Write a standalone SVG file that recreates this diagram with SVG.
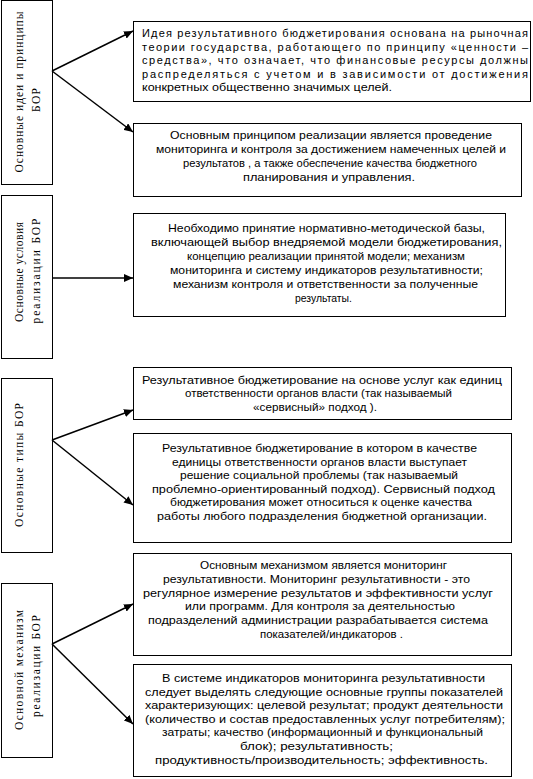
<svg xmlns="http://www.w3.org/2000/svg" width="533" height="779" viewBox="0 0 533 779">
<style>
.box{fill:#fff;stroke:#000;stroke-width:1}
.lt{font-family:"Liberation Serif","Times New Roman",serif;font-size:11.5px;fill:#000;text-anchor:middle}
.rt{font-family:"Liberation Sans",Arial,sans-serif;font-size:11px;fill:#000}
.conn{stroke:#000;stroke-width:1.5;fill:none;marker-end:url(#ah)}
</style>
<defs>
<marker id="ah" markerWidth="10" markerHeight="8" refX="9" refY="4" orient="auto" markerUnits="userSpaceOnUse">
<path d="M0,0 L9,4 L0,8 Z" fill="#000"/>
</marker>
</defs>
<rect width="533" height="779" fill="#fff"/>

<g id="L1">
<rect class="box" x="1.5" y="0.5" width="51" height="184"/>
<text class="lt" transform="translate(23,92) rotate(-90)" textLength="161" lengthAdjust="spacing">Основные идеи и принципы</text>
<text class="lt" transform="translate(40,100) rotate(-90)" textLength="24" lengthAdjust="spacing">БОР</text>
</g>
<g id="L2">
<rect class="box" x="1.5" y="195.5" width="51" height="163"/>
<text class="lt" transform="translate(23,272) rotate(-90)" textLength="100" lengthAdjust="spacing">Основные условия</text>
<text class="lt" transform="translate(40,271) rotate(-90)" textLength="105" lengthAdjust="spacing">реализации БОР</text>
</g>
<g id="L3">
<rect class="box" x="1.5" y="378.5" width="51" height="174"/>
<text class="lt" transform="translate(23,465) rotate(-90)" textLength="124" lengthAdjust="spacing">Основные типы БОР</text>
</g>
<g id="L4">
<rect class="box" x="1.5" y="583.5" width="51" height="174"/>
<text class="lt" transform="translate(23,670) rotate(-90)" textLength="120" lengthAdjust="spacing">Основной механизм</text>
<text class="lt" transform="translate(40,666) rotate(-90)" textLength="102" lengthAdjust="spacing">реализации БОР</text>
</g>

<g id="R1">
<rect class="box" x="133.5" y="21.5" width="397" height="80"/>
<text class="rt" x="142" y="37" textLength="386" lengthAdjust="spacing">Идея результативного бюджетирования основана на рыночная</text>
<text class="rt" x="142" y="51" textLength="386" lengthAdjust="spacing">теории государства, работающего по принципу «ценности –</text>
<text class="rt" x="142" y="64" textLength="386" lengthAdjust="spacing">средства», что означает, что финансовые ресурсы должны</text>
<text class="rt" x="142" y="78" textLength="386" lengthAdjust="spacing">распределяться с учетом и в зависимости от достижения</text>
<text class="rt" x="142" y="91" textLength="250" lengthAdjust="spacingAndGlyphs">конкретных общественно значимых целей.</text>
</g>
<g id="R2">
<rect class="box" x="133.5" y="123.5" width="388" height="73"/>
<text class="rt" x="170" y="139" textLength="322" lengthAdjust="spacingAndGlyphs">Основным принципом реализации является проведение</text>
<text class="rt" x="156" y="153" textLength="350" lengthAdjust="spacingAndGlyphs">мониторинга и контроля за достижением намеченных целей и</text>
<text class="rt" x="183" y="167" textLength="294" lengthAdjust="spacingAndGlyphs">результатов , а также обеспечение качества бюджетного</text>
<text class="rt" x="243" y="181" textLength="172" lengthAdjust="spacingAndGlyphs">планирования и управления.</text>
</g>
<g id="R3">
<rect class="box" x="133.5" y="213.5" width="372" height="103"/>
<text class="rt" x="168" y="232" textLength="317" lengthAdjust="spacingAndGlyphs">Необходимо принятие нормативно-методической базы,</text>
<text class="rt" x="151" y="246" textLength="351" lengthAdjust="spacingAndGlyphs">включающей выбор внедряемой модели бюджетирования,</text>
<text class="rt" x="187" y="260" textLength="278" lengthAdjust="spacingAndGlyphs">концепцию реализации принятой модели; механизм</text>
<text class="rt" x="170" y="274" textLength="313" lengthAdjust="spacingAndGlyphs">мониторинга и систему индикаторов результативности;</text>
<text class="rt" x="173" y="288" textLength="305" lengthAdjust="spacingAndGlyphs">механизм контроля и ответственности за полученные</text>
<text class="rt" x="295" y="302" textLength="57" lengthAdjust="spacingAndGlyphs">результаты.</text>
</g>
<g id="R4">
<rect class="box" x="133.5" y="367.5" width="378" height="52"/>
<text class="rt" x="142" y="384" textLength="360" lengthAdjust="spacingAndGlyphs">Результативное бюджетирование на основе услуг как единиц</text>
<text class="rt" x="185" y="397" textLength="267" lengthAdjust="spacingAndGlyphs">ответственности органов власти (так называемый</text>
<text class="rt" x="253" y="411" textLength="124" lengthAdjust="spacingAndGlyphs">«сервисный» подход ).</text>
</g>
<g id="R5">
<rect class="box" x="133.5" y="433.5" width="378" height="109"/>
<text class="rt" x="162" y="452" textLength="315" lengthAdjust="spacingAndGlyphs">Результативное бюджетирование в котором в качестве</text>
<text class="rt" x="172" y="466" textLength="295" lengthAdjust="spacingAndGlyphs">единицы ответственности органов власти выступает</text>
<text class="rt" x="180" y="479" textLength="278" lengthAdjust="spacingAndGlyphs">решение социальной проблемы (так называемый</text>
<text class="rt" x="152" y="493" textLength="343" lengthAdjust="spacingAndGlyphs">проблемно-ориентированный подход).  Сервисный подход</text>
<text class="rt" x="170" y="506" textLength="302" lengthAdjust="spacingAndGlyphs">бюджетирования может относиться к оценке качества</text>
<text class="rt" x="157" y="520" textLength="330" lengthAdjust="spacingAndGlyphs">работы любого подразделения бюджетной организации.</text>
</g>
<g id="R6">
<rect class="box" x="133.5" y="553.5" width="378" height="102"/>
<text class="rt" x="200" y="569" textLength="247" lengthAdjust="spacingAndGlyphs">Основным механизмом является мониторинг</text>
<text class="rt" x="163" y="583" textLength="307" lengthAdjust="spacingAndGlyphs">результативности. Мониторинг результативности - это</text>
<text class="rt" x="143" y="597" textLength="350" lengthAdjust="spacingAndGlyphs">регулярное измерение результатов и эффективности услуг</text>
<text class="rt" x="185" y="610" textLength="270" lengthAdjust="spacingAndGlyphs">или программ. Для контроля за деятельностью</text>
<text class="rt" x="148" y="624" textLength="340" lengthAdjust="spacingAndGlyphs">подразделений администрации разрабатывается система</text>
<text class="rt" x="260" y="638" textLength="143" lengthAdjust="spacingAndGlyphs">показателей/индикаторов .</text>
</g>
<g id="R7">
<rect class="box" x="133.5" y="664.5" width="378" height="112"/>
<text class="rt" x="162" y="682" textLength="323" lengthAdjust="spacingAndGlyphs">В системе индикаторов мониторинга результативности</text>
<text class="rt" x="145" y="696" textLength="358" lengthAdjust="spacingAndGlyphs">следует выделять следующие основные группы показателей</text>
<text class="rt" x="145" y="709" textLength="358" lengthAdjust="spacingAndGlyphs">характеризующих: целевой результат; продукт деятельности</text>
<text class="rt" x="145" y="723" textLength="360" lengthAdjust="spacingAndGlyphs">(количество и состав предоставленных услуг потребителям);</text>
<text class="rt" x="162" y="736" textLength="321" lengthAdjust="spacingAndGlyphs">затраты; качество (информационный и функциональный</text>
<text class="rt" x="240" y="750" textLength="153" lengthAdjust="spacingAndGlyphs">блок); результативность;</text>
<text class="rt" x="155" y="764" textLength="333" lengthAdjust="spacingAndGlyphs">продуктивность/производительность; эффективность.</text>
</g>

<g id="connectors">
<line class="conn" x1="52" y1="71" x2="133" y2="31"/>
<line class="conn" x1="52" y1="71" x2="133" y2="132"/>
<line class="conn" x1="52" y1="278" x2="133" y2="278"/>
<line class="conn" x1="52" y1="440" x2="133" y2="410"/>
<line class="conn" x1="52" y1="440" x2="133" y2="505"/>
<line class="conn" x1="52" y1="644" x2="133" y2="604"/>
<line class="conn" x1="52" y1="644" x2="133" y2="724"/>
</g>
</svg>
